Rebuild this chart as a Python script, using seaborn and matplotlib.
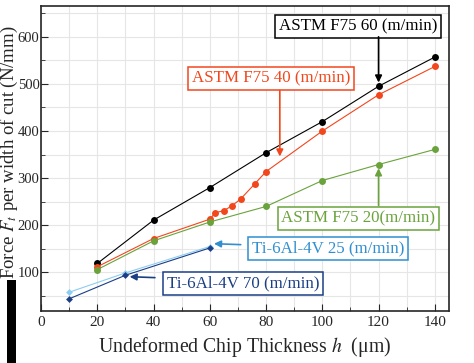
import seaborn as sns
import pandas as pd
import matplotlib.pyplot as plt
from matplotlib.patches import Rectangle
from matplotlib.ticker import MultipleLocator

# data
h_60 = [20, 40, 60, 80, 100, 120, 140]
f_60 = [119, 211, 280, 354, 420, 495, 557]

h_40 = [20, 40, 60, 62, 65, 68, 71, 76, 80, 100, 120, 140]
f_40 = [112, 172, 213, 227, 231, 242, 256, 288, 314, 400, 477, 537]

h_20 = [20, 40, 60, 80, 100, 120, 140]
f_20 = [106, 167, 207, 240, 295, 329, 361]

h_ti25 = [10, 30, 60]
f_ti25 = [58, 99, 155]

h_ti70 = [10, 30, 60]
f_ti70 = [44, 94, 152]

black = '#000000'
orange = '#f2461c'
green = '#6aa33c'
light_blue = '#8ccdf2'
light_blue_txt = '#2f8fd0'
dark_blue = '#1b3f85'

sns.set_style('ticks')
plt.rcParams['font.family'] = ['Liberation Serif', 'DejaVu Serif']
plt.rcParams['mathtext.fontset'] = 'stix'

fig, ax = plt.subplots(figsize=(4.74, 3.63), dpi=100)
fig.subplots_adjust(left=0.0865, right=0.947, top=0.983, bottom=0.143)

ax.grid(True, which='both', color='#e6e6e6', linewidth=0.8)
ax.set_axisbelow(True)

series = [
    (h_60, f_60, black, 'o', 5),
    (h_40, f_40, orange, 'o', 5),
    (h_20, f_20, green, 'o', 5),
    (h_ti25, f_ti25, light_blue, 'D', 3.5),
    (h_ti70, f_ti70, dark_blue, 'D', 3.5),
]
for hx, fy, col, mk, ms in series:
    d = pd.DataFrame({'h': hx, 'f': fy})
    sns.lineplot(data=d, x='h', y='f', color=col, marker=mk, markersize=ms,
                 markeredgewidth=0, linewidth=0.8, sort=False, ax=ax)

ax.set_xlim(0, 145)
ax.set_ylim(18, 665)
ax.xaxis.set_major_locator(MultipleLocator(20))
ax.xaxis.set_minor_locator(MultipleLocator(10))
ax.yaxis.set_major_locator(MultipleLocator(100))
ax.yaxis.set_minor_locator(MultipleLocator(50))
ax.tick_params(which='both', direction='in', labelsize=11)
ax.tick_params(axis='y', pad=1, labelsize=10.5)
ax.tick_params(which='major', length=5)
ax.tick_params(which='minor', length=3)
for s in ax.spines.values():
    s.set_linewidth(1.2)

ax.set_xlabel('Undeformed Chip Thickness $h$  (μm)', fontsize=14.2, labelpad=4)
ax.set_ylabel('')
fig.text(9 / 474, 0.58, 'Force $F_t$ per width of cut (N/mm)', rotation=90,
         ha='center', va='center', fontsize=13.5)

# boxed labels with arrows
labels = [
    ('ASTM F75 60 (m/min)', (112.6, 622), black, black, (120, 600), (120, 503)),
    ('ASTM F75 40 (m/min)', (81.9, 511), orange, orange, (84.9, 486), (84.9, 346)),
    ('ASTM F75 20(m/min)', (112.8, 214), green, green, (120, 242), (120, 321)),
    ('Ti-6Al-4V 25 (m/min)', (102.1, 151), light_blue_txt, light_blue_txt, (71, 159), (61.5, 161)),
    ('Ti-6Al-4V 70 (m/min)', (71.8, 77), dark_blue, dark_blue, (40.5, 89), (31.5, 91)),
]
for txt, pos, tcol, ecol, start, end in labels:
    ax.text(pos[0], pos[1], txt, color=tcol, fontsize=12.2, ha='center', va='center',
            bbox=dict(boxstyle='square,pad=0.22', facecolor='white', edgecolor=ecol, linewidth=1.1),
            zorder=5)
    ax.annotate('', xy=end, xytext=start,
                arrowprops=dict(arrowstyle='-|>', color=ecol, linewidth=1.2, mutation_scale=10,
                                shrinkA=0, shrinkB=0), zorder=5)

# black strip at the lower left of the scan
fig.patches.append(Rectangle((7 / 474, 0), 9 / 474, 83 / 363, transform=fig.transFigure,
                             facecolor='black', edgecolor='none', zorder=10))

fig.savefig('out.png', dpi=100)
